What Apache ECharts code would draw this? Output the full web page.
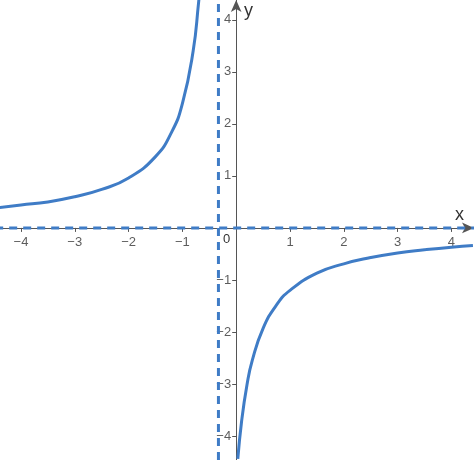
<!DOCTYPE html>
<html>
<head>
<meta charset="utf-8">
<script src="https://cdn.jsdelivr.net/npm/echarts@6/dist/echarts.min.js"></script>
<style>html,body{margin:0;background:#fff}#chart{width:474px;height:460px}</style>
</head>
<body>
<div id="chart"></div>
<script>
// points
const leftBranch = [[-4.4,0.39],[-4,0.44],[-3.5,0.50],[-3,0.60],[-2.5,0.74],[-2,0.96],[-1.5,1.37],[-1.2,1.84],[-1,2.39],[-0.8,3.40],[-0.7,4.32],[-0.68,4.57]];
const rightBranch = [[0.03,-4.44],[0.1,-3.72],[0.2,-3.02],[0.3,-2.54],[0.5,-1.93],[0.75,-1.48],[1,-1.20],[1.5,-0.87],[2,-0.69],[2.5,-0.57],[3,-0.48],[3.5,-0.42],[4,-0.37],[4.4,-0.34]];
const asymX = -0.33;
const asymY = 0;
const xTicks = [-4,-3,-2,-1,1,2,3,4];
const yTicks = [-4,-3,-2,-1,1,2,3,4];

const blue = '#3f7cc6';
const fmt = v => v < 0 ? '\u2212' + Math.abs(v) : String(v);
const chart = echarts.init(document.getElementById('chart'));
const axisCommon = {
  type: 'value',
  axisLine: {onZero: true, symbol: ['none','arrow'], symbolSize: [8,12], lineStyle: {color: '#555', width: 1}},
  splitLine: {show: false},
  axisLabel: {show: false}
};
const labelStyle = {color: '#333', fontSize: 13, fontFamily: 'Liberation Sans'};
chart.setOption({
  animation: false,
  grid: {left: 0, right: 0, top: 0, bottom: 0, outerBoundsMode: 'none', containLabel: false},
  xAxis: Object.assign({}, axisCommon, {min: -4.39, max: 4.42,
    axisTick: {length: 4, customValues: xTicks, lineStyle: {color: '#555'}}}),
  yAxis: Object.assign({}, axisCommon, {min: -4.46, max: 4.38,
    axisTick: {length: 4, customValues: yTicks, lineStyle: {color: '#555'}}}),
  graphic: [
    {type: 'text', left: 223, top: 233, style: {text: '0', fontSize: 13, fill: '#333', fontFamily: 'Liberation Sans'}},
    {type: 'text', left: 455, top: 206, style: {text: 'x', fontSize: 18, fill: '#333', fontFamily: 'Liberation Sans'}},
    {type: 'text', left: 244, top: 2, style: {text: 'y', fontSize: 18, fill: '#333', fontFamily: 'Liberation Sans'}}
  ],
  series: [
    {type: 'line', data: leftBranch, smooth: true, showSymbol: false, clip: true, lineStyle: {color: blue, width: 3}},
    {type: 'line', data: rightBranch, smooth: true, showSymbol: false, clip: true, lineStyle: {color: blue, width: 3}},
    {type: 'line', data: [[asymX,-5],[asymX,5]], showSymbol: false, lineStyle: {color: blue, width: 3, type: [8,6]}},
    {type: 'line', data: [[-5,asymY],[5,asymY]], showSymbol: false, lineStyle: {color: blue, width: 3, type: [8,6]}},
    {type: 'scatter', symbolSize: 0, data: xTicks.map(v => [v, 0]),
      label: Object.assign({show: true, position: 'bottom', distance: 8, formatter: p => fmt(p.value[0])}, labelStyle)},
    {type: 'scatter', symbolSize: 0, data: yTicks.map(v => [0, v]),
      label: Object.assign({show: true, position: 'left', distance: 5, formatter: p => fmt(p.value[1])}, labelStyle)}
  ]
});
</script>
</body>
</html>
